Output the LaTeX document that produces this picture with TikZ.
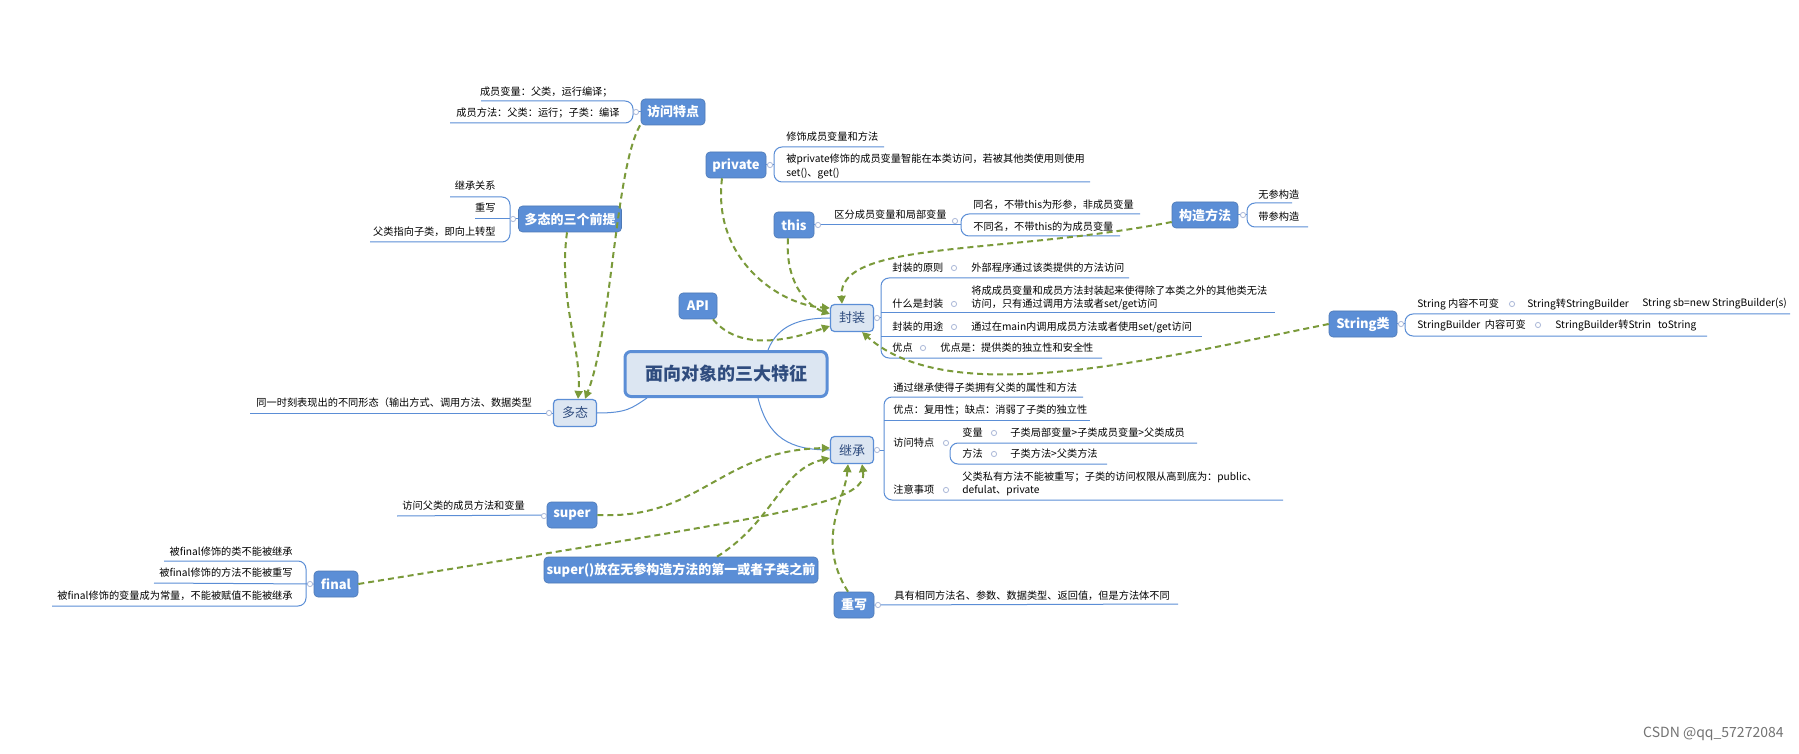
\documentclass[tikz,border=0pt]{standalone}
\usepackage{fontspec}
\setmainfont{Noto Sans CJK SC}
\usetikzlibrary{arrows.meta}
\definecolor{bl}{HTML}{5B8ED6}
\definecolor{gr}{HTML}{7A9A3A}
\definecolor{lb}{HTML}{DCE6F2}
\definecolor{dotc}{HTML}{AAB8D8}
\definecolor{ctx}{HTML}{2F4C7E}
\begin{document}
\begin{tikzpicture}[x=0.5pt,y=-0.5pt,
 lf/.style={anchor=west,inner sep=0pt,font=\fontsize{5.1}{6.6}\selectfont,align=left},
 lfr/.style={lf,anchor=east,align=right},
 ln/.style={draw=bl,line width=0.5pt},
 fb/.style={fill=bl,draw=bl!85!black,line width=0.3pt,rounded corners=2pt,text=white,font=\fontsize{6.5}{8}\selectfont\bfseries,minimum height=13pt,inner sep=0pt},
 ch/.style={fill=lb,draw=bl,line width=0.6pt,rounded corners=2pt,minimum width=21.5pt,minimum height=13.5pt,inner sep=0pt,font=\fontsize{6.5}{8}\selectfont,text=ctx},
 cen/.style={fill=lb,draw=bl,line width=1.5pt,rounded corners=3pt,minimum width=101pt,minimum height=22.5pt,inner sep=0pt,font=\fontsize{9}{11}\selectfont\bfseries,text=ctx},
 dotn/.style={circle,draw=dotc,fill=white,line width=0.4pt,inner sep=0pt,minimum size=2.6pt},
 ga/.style={draw=gr,line width=1pt,dash pattern=on 3pt off 2pt,-{Triangle[length=4pt,width=4pt]}}]
\useasboundingbox (0,0) rectangle (1799,754);
\fill[white] (0,0) rectangle (1799,754);

% central and main children
\node[cen] (c) at (726,374) {面向对象的三大特征};
\node[ch] (fz) at (852,318) {封装};
\node[ch] (jc) at (852,450) {继承};
\node[ch] (dt) at (575,413) {多态};
\draw[ln] ([xshift=21pt]c.north) .. controls +(10,-25) and +(-30,0) .. (fz.west);
\draw[ln] ([xshift=16pt]c.south) .. controls +(10,40) and +(-40,0) .. (jc.west);
\draw[ln] (dt.east) .. controls +(30,0) and +(-15,10) .. ([xshift=-39.5pt]c.south);

% floating nodes
\node[fb,minimum width=32pt] (fw) at (673,112) {访问特点};
\node[fb,minimum width=51.5pt] (sq) at (570,219) {多态的三个前提};
\node[fb,minimum width=30pt] (pv) at (736,165) {private};
\node[fb,minimum width=20pt] (th) at (794,225) {this};
\node[fb,minimum width=33pt] (gz) at (1205,215) {构造方法};
\node[fb,minimum width=19pt] (api) at (698,306) {API};
\node[fb,minimum width=34pt] (sl) at (1363,324) {String类};
\node[fb,minimum width=25pt] (sp) at (572,515) {super};
\node[fb,minimum width=137pt] (sb) at (681,570) {super()放在无参构造方法的第一或者子类之前};
\node[fb,minimum width=20pt] (cx) at (854,605) {重写};
\node[fb,minimum width=22pt] (fn) at (336,584) {final};

% 访问特点 leaves
\draw[ln] (fw.west) -- (633,112);
\draw[ln,rounded corners=4] (481,101) -- (633,101) -- (633,123) -- (450,123);
\node[dotn] at (636,112) {};
\node[lfr] at (613,92) {成员变量：父类，运行编译；};
\node[lfr] at (620,113) {成员方法：父类：运行；子类：编译};

% 多态的三个前提 leaves
\draw[ln] (sq.west) -- (475,219);
\draw[ln,rounded corners=4] (450,197) -- (510,197) -- (510,242) -- (370,242);
\node[dotn] at (513,219) {};
\node[lfr] at (496,186) {继承关系};
\node[lfr] at (496,208) {重写};
\node[lfr] at (496,232) {父类指向子类，即向上转型};

% 多态 leaf
\draw[ln] (dt.west) -- (250,413);
\node[dotn] at (549,413) {};
\node[lf] at (256,403) {同一时刻表现出的不同形态（输出方式、调用方法、数据类型};

% super leaf
\draw[ln] (sp.west) -- (397,516);
\node[dotn] at (544,516) {};
\node[lf] at (402,506) {访问父类的成员方法和变量};

% final leaves
\draw[ln] (fn.west) -- (154,583);
\draw[ln,rounded corners=4] (164,561) -- (306,561) -- (306,606) -- (52,606);
\node[dotn] at (310,584) {};
\node[lfr] at (293,552) {被final修饰的类不能被继承};
\node[lfr] at (293,573) {被final修饰的方法不能被重写};
\node[lfr] at (293,596) {被final修饰的变量成为常量，不能被赋值不能被继承};

% 重写 leaf
\draw[ln] (cx.east) -- (1178,604);
\node[dotn] at (878,605) {};
\node[lf] at (894,596) {具有相同方法名、参数、数据类型、返回值，但是方法体不同};

% private leaves
\draw[ln] (pv.east) -- (774,165);
\draw[ln,rounded corners=4] (884,147) -- (774,147) -- (774,182) -- (1090,182);
\node[dotn] at (770,165) {};
\node[lf] at (786,137) {修饰成员变量和方法};
\node[lf] at (786,166.5) {被private修饰的成员变量智能在本类访问，若被其他类使用则使用\\set()、get()};

% this leaves
\draw[ln] (th.east) -- (961,225);
\draw[ln,rounded corners=4] (1140,214) -- (961,214) -- (961,236) -- (1120,236);
\node[dotn] at (818,225) {};
\node[dotn] at (955,221) {};
\node[lf] at (834,215) {区分成员变量和局部变量};
\node[lf] at (973,205) {同名，不带this为形参，非成员变量};
\node[lf] at (973,227) {不同名，不带this的为成员变量};

% 构造方法 leaves
\draw[ln] (gz.east) -- (1247,215);
\draw[ln,rounded corners=4] (1292,203) -- (1247,203) -- (1247,227) -- (1308,227);
\node[dotn] at (1243,215) {};
\node[lf] at (1258,195) {无参构造};
\node[lf] at (1258,217) {带参构造};

% String类 leaves
\draw[ln] (sl.east) -- (1405,324);
\draw[ln,rounded corners=4] (1790,314) -- (1405,314) -- (1405,336) -- (1707,336);
\node[dotn] at (1401,324) {};
\node[lf] at (1417,304) {String 内容不可变};
\node[dotn] at (1512,304) {};
\node[lf] at (1527,304) {String转StringBuilder};
\node[lf] at (1642,304) {String sb=new StringBuilder(s)};
\node[lf] at (1417,325) {StringBuilder\ \ 内容可变};
\node[dotn] at (1538,325) {};
\node[lf] at (1555,325) {StringBuilder转Strin\ \ \ toString};

% 封装 leaves
\draw[ln] (fz.east) -- (881,318);
\draw[ln,rounded corners=4] (1129,278) -- (881,278) -- (881,358) -- (1102,358);
\draw[ln] (881,313) -- (1275,313);
\draw[ln] (881,336) -- (1202,336);
\node[dotn] at (877,318) {};
\node[lf] at (892,268) {封装的原则};
\node[dotn] at (954,268) {};
\node[lf] at (971,268) {外部程序通过该类提供的方法访问};
\node[lf] at (892,304) {什么是封装};
\node[dotn] at (954,304) {};
\node[lf] at (971,298) {将成成员变量和成员方法封装起来使得除了本类之外的其他类无法\\访问，只有通过调用方法或者set/get访问};
\node[lf] at (892,327) {封装的用途};
\node[dotn] at (954,327) {};
\node[lf] at (971,327) {通过在main内调用成员方法或者使用set/get访问};
\node[lf] at (892,348) {优点};
\node[dotn] at (923,348) {};
\node[lf] at (940,348) {优点是：提供类的独立性和安全性};

% 继承 leaves
\draw[ln] (jc.east) -- (884,450);
\draw[ln,rounded corners=4] (1083,397) -- (884,397) -- (884,500) -- (1283,500);
\draw[ln] (884,420) -- (1090,420);
\draw[ln,rounded corners=4] (1197,443) -- (950,443) -- (950,464) -- (1107,464);
\node[dotn] at (877,450) {};
\node[lf] at (893,388) {通过继承使得子类拥有父类的属性和方法};
\node[lf] at (893,410) {优点：复用性；缺点：消弱了子类的独立性};
\node[lf] at (893,443) {访问特点};
\node[dotn] at (946,443) {};
\node[lf] at (962,433) {变量};
\node[dotn] at (994,433) {};
\node[lf] at (1010,433) {子类局部变量>子类成员变量>父类成员};
\node[lf] at (962,454) {方法};
\node[dotn] at (994,454) {};
\node[lf] at (1010,454) {子类方法>父类方法};
\node[lf] at (893,490) {注意事项};
\node[dotn] at (946,490) {};
\node[lf] at (962,484) {父类私有方法不能被重写；子类的访问权限从高到底为：public、\\defulat、private};

% dashed green relations
\draw[ga] ([xshift=-16.5pt]fw.south) .. controls (615,170) and (612,330) .. ([xshift=5pt]dt.north);
\draw[ga] ([xshift=-1.5pt]sq.south) .. controls (558,300) and (582,350) .. ([xshift=1.5pt]dt.north);
\draw[ga] ([xshift=-7pt]pv.south) .. controls (712,260) and (780,305) .. ([yshift=5pt]fz.west);
\draw[ga] ([xshift=-3pt]th.south) .. controls (785,280) and (805,305) .. ([yshift=2pt]fz.west);
\draw[ga] ([yshift=-3.5pt]gz.west) .. controls (1000,255) and (838,240) .. ([xshift=-5pt]fz.north);
\draw[ga] ([xshift=7.5pt]api.south) .. controls (740,352) and (790,340) .. ([yshift=-4pt]fz.west);
\draw[ga] (sl.west) .. controls (1150,360) and (950,410) .. ([xshift=5pt]fz.south);
\draw[ga] (sp.east) .. controls (700,520) and (720,450) .. ([yshift=1pt]jc.west);
\draw[ga] ([xshift=18pt]sb.north) .. controls (775,520) and (780,470) .. ([yshift=-4pt]jc.west);
\draw[ga] (fn.east) .. controls (780,515) and (868,505) .. ([xshift=5pt]jc.south);
\draw[ga] ([xshift=-3pt]cx.north) .. controls (815,540) and (845,500) .. ([xshift=-2pt]jc.south);

\node[anchor=east,inner sep=0pt,text=black!55,font=\fontsize{7}{8}\selectfont] (wm) at (1784,734) {CSDN @qq\_57272084};
\end{tikzpicture}
\end{document}
